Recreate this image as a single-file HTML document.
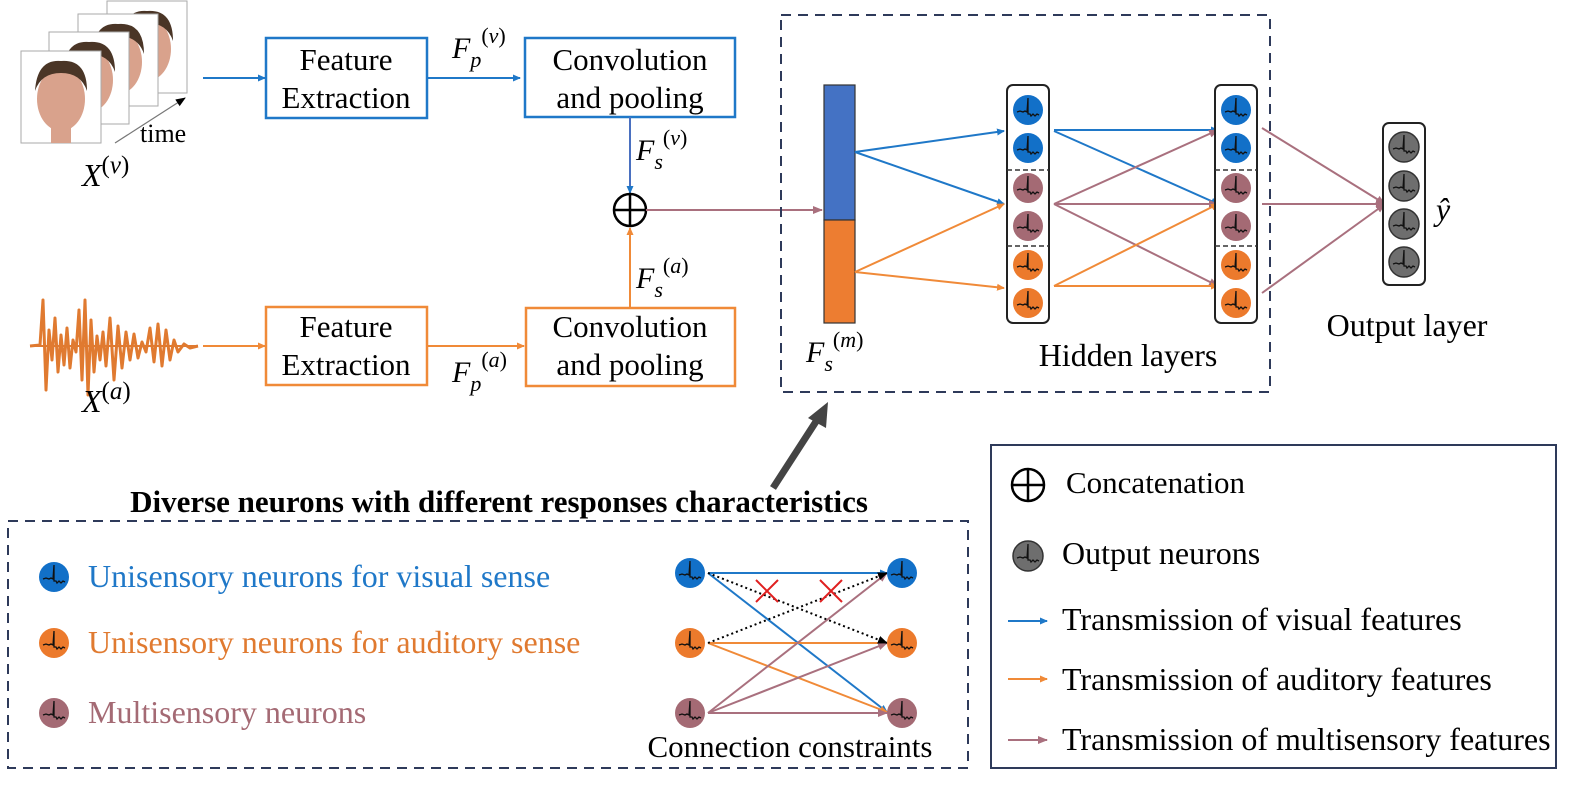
<!DOCTYPE html>
<html><head><meta charset="utf-8"><style>
html,body{margin:0;padding:0;background:#fff;}
svg{display:block;font-family:"Liberation Serif",serif;}
</style></head><body>
<svg width="1578" height="790" viewBox="0 0 1578 790" xmlns="http://www.w3.org/2000/svg">
<defs>
<marker id="mb" markerWidth="8" markerHeight="8" refX="7" refY="4" orient="auto" markerUnits="userSpaceOnUse"><path d="M0,0.5 L8,4 L0,7.5z" fill="#1f78c8"/></marker>
<marker id="mo" markerWidth="8" markerHeight="8" refX="7" refY="4" orient="auto" markerUnits="userSpaceOnUse"><path d="M0,0.5 L8,4 L0,7.5z" fill="#f08a38"/></marker>
<marker id="mm" markerWidth="10" markerHeight="10" refX="9" refY="5" orient="auto" markerUnits="userSpaceOnUse"><path d="M0,1 L10,5 L0,9z" fill="#a9707e"/></marker>
<marker id="mk" markerWidth="10" markerHeight="10" refX="9" refY="5" orient="auto" markerUnits="userSpaceOnUse"><path d="M0,1 L10,5 L0,9z" fill="#000"/></marker>
<g id="sp"><path d="M-11,2 l3,-1 l3,1 l2,-1 l2,1 l1,-14 l0,16 l2,0 l1,2 l2,-2 l2,2 l2,-2 l2,1" fill="none" stroke="#111" stroke-width="1.3"/></g>
<g id="nb"><circle r="15" fill="#1270c8"/><use href="#sp"/></g>
<g id="no"><circle r="15" fill="#ec7a2c"/><use href="#sp"/></g>
<g id="nm"><circle r="15" fill="#a46a74"/><use href="#sp"/></g>
<g id="ng"><circle r="15" fill="#6e6e6e" stroke="#333" stroke-width="1.5"/><use href="#sp"/></g>
<g id="face"><rect width="80" height="92" fill="#fff" stroke="#aaa"/><ellipse cx="40" cy="48" rx="24" ry="32" fill="#d9a28c"/><path d="M14,40 Q16,8 40,10 Q66,8 66,40 Q60,22 40,22 Q20,22 14,40z" fill="#4a3526"/><rect x="30" y="76" width="20" height="16" fill="#d9a28c"/></g>
</defs>

<use href="#face" x="107" y="1"/>
<use href="#face" x="78" y="14"/>
<use href="#face" x="49" y="32"/>
<use href="#face" x="21" y="51"/>
<line x1="115" y1="143" x2="185" y2="98" stroke="#777" stroke-width="1.2" marker-end="url(#mk)"/>
<text x="140" y="142" font-size="26">time</text>
<text x="82" y="186" font-size="32" font-style="italic">X<tspan dy="-13" font-size="25" font-style="normal">(</tspan><tspan font-size="25">v</tspan><tspan font-size="25" font-style="normal">)</tspan></text>

<path d="M30,346 L40,345 L43,300 L46,390 L49,330 L52,360 L55,318 L58,372 L61,335 L64,365 L67,328 L70,368 L73,340 L76,352 L79,310 L82,380 L85,300 L88,395 L91,320 L94,372 L97,336 L100,360 L103,332 L106,366 L110,318 L114,380 L118,326 L122,368 L126,332 L130,360 L134,334 L138,358 L142,342 L146,352 L150,328 L154,362 L158,324 L162,366 L166,330 L170,360 L174,340 L178,352 L184,344 L190,348 L198,346" fill="none" stroke="#e07a30" stroke-width="3" stroke-linejoin="round"/>
<path d="M30,346 L198,346" stroke="#e07a30" stroke-width="2"/>
<text x="82" y="412" font-size="32" font-style="italic">X<tspan dy="-13" font-size="25" font-style="normal">(</tspan><tspan font-size="25">a</tspan><tspan font-size="25" font-style="normal">)</tspan></text>

<line x1="203" y1="78" x2="265" y2="78" stroke="#1f78c8" stroke-width="2" marker-end="url(#mb)"/>
<rect x="266" y="38" width="161" height="80" fill="none" stroke="#1f78c8" stroke-width="2.5"/>
<text x="346" y="70" font-size="31" text-anchor="middle">Feature</text>
<text x="346" y="108" font-size="31" text-anchor="middle">Extraction</text>
<line x1="427" y1="78" x2="520" y2="78" stroke="#1f78c8" stroke-width="2" marker-end="url(#mb)"/>
<text x="452" y="58" font-size="30" font-style="italic">F<tspan dy="9" font-size="22">p</tspan><tspan dy="-24" font-size="22" font-style="normal">(</tspan><tspan font-size="22">v</tspan><tspan font-size="22" font-style="normal">)</tspan></text>
<rect x="525" y="38" width="210" height="79" fill="none" stroke="#1f78c8" stroke-width="2.5"/>
<text x="630" y="70" font-size="31" text-anchor="middle">Convolution</text>
<text x="630" y="108" font-size="31" text-anchor="middle">and pooling</text>
<line x1="630" y1="117" x2="630" y2="193" stroke="#4a70c0" stroke-width="2" marker-end="url(#mb)"/>
<text x="636" y="160" font-size="30" font-style="italic">F<tspan dy="9" font-size="22">s</tspan><tspan dy="-24" font-size="22" font-style="normal">(</tspan><tspan font-size="22">v</tspan><tspan font-size="22" font-style="normal">)</tspan></text>

<circle cx="630" cy="210" r="16" fill="#fff" stroke="#000" stroke-width="2.5"/>
<line x1="614" y1="210" x2="646" y2="210" stroke="#000" stroke-width="2.5"/>
<line x1="630" y1="194" x2="630" y2="226" stroke="#000" stroke-width="2.5"/>
<line x1="646" y1="210" x2="822" y2="210" stroke="#a9707e" stroke-width="2" marker-end="url(#mm)"/>

<line x1="203" y1="346" x2="265" y2="346" stroke="#f08a38" stroke-width="2" marker-end="url(#mo)"/>
<rect x="266" y="307" width="161" height="78" fill="none" stroke="#f08a38" stroke-width="2.5"/>
<text x="346" y="337" font-size="31" text-anchor="middle">Feature</text>
<text x="346" y="375" font-size="31" text-anchor="middle">Extraction</text>
<line x1="427" y1="346" x2="524" y2="346" stroke="#f08a38" stroke-width="2" marker-end="url(#mo)"/>
<text x="452" y="382" font-size="30" font-style="italic">F<tspan dy="9" font-size="22">p</tspan><tspan dy="-24" font-size="22" font-style="normal">(</tspan><tspan font-size="22">a</tspan><tspan font-size="22" font-style="normal">)</tspan></text>
<rect x="526" y="308" width="209" height="78" fill="none" stroke="#f08a38" stroke-width="2.5"/>
<text x="630" y="337" font-size="31" text-anchor="middle">Convolution</text>
<text x="630" y="375" font-size="31" text-anchor="middle">and pooling</text>
<line x1="630" y1="308" x2="630" y2="228" stroke="#f08a38" stroke-width="2" marker-end="url(#mo)"/>
<text x="636" y="288" font-size="30" font-style="italic">F<tspan dy="9" font-size="22">s</tspan><tspan dy="-24" font-size="22" font-style="normal">(</tspan><tspan font-size="22">a</tspan><tspan font-size="22" font-style="normal">)</tspan></text>

<rect x="781" y="15" width="489" height="377" fill="none" stroke="#2e3a5a" stroke-width="2" stroke-dasharray="10,7"/>
<rect x="824" y="85" width="31" height="135" fill="#4472c4" stroke="#333" stroke-width="1.2"/>
<rect x="824" y="220" width="31" height="103" fill="#ed7d31" stroke="#333" stroke-width="1.2"/>
<text x="806" y="362" font-size="30" font-style="italic">F<tspan dy="9" font-size="22">s</tspan><tspan dy="-24" font-size="22" font-style="normal">(</tspan><tspan font-size="22">m</tspan><tspan font-size="22" font-style="normal">)</tspan></text>

<line x1="855" y1="152" x2="1004" y2="131" stroke="#1f78c8" stroke-width="2" marker-end="url(#mb)"/>
<line x1="855" y1="152" x2="1004" y2="204" stroke="#1f78c8" stroke-width="2" marker-end="url(#mb)"/>
<line x1="855" y1="272" x2="1004" y2="204" stroke="#f08a38" stroke-width="2" marker-end="url(#mo)"/>
<line x1="855" y1="272" x2="1004" y2="288" stroke="#f08a38" stroke-width="2" marker-end="url(#mo)"/>

<line x1="1054" y1="130" x2="1218" y2="130" stroke="#1f78c8" stroke-width="2" marker-end="url(#mb)"/>
<line x1="1054" y1="131" x2="1218" y2="204" stroke="#1f78c8" stroke-width="2" marker-end="url(#mb)"/>
<line x1="1054" y1="204" x2="1218" y2="130" stroke="#a9707e" stroke-width="2" marker-end="url(#mm)"/>
<line x1="1054" y1="204" x2="1218" y2="204" stroke="#a9707e" stroke-width="2" marker-end="url(#mm)"/>
<line x1="1054" y1="204" x2="1218" y2="286" stroke="#a9707e" stroke-width="2" marker-end="url(#mm)"/>
<line x1="1054" y1="286" x2="1218" y2="204" stroke="#f08a38" stroke-width="2" marker-end="url(#mo)"/>
<line x1="1054" y1="286" x2="1218" y2="286" stroke="#f08a38" stroke-width="2" marker-end="url(#mo)"/>

<line x1="1262" y1="128" x2="1385" y2="204" stroke="#a9707e" stroke-width="2" marker-end="url(#mm)"/>
<line x1="1262" y1="204" x2="1385" y2="204" stroke="#a9707e" stroke-width="2" marker-end="url(#mm)"/>
<line x1="1262" y1="293" x2="1385" y2="204" stroke="#a9707e" stroke-width="2" marker-end="url(#mm)"/>

<rect x="1007" y="85" width="42" height="238" rx="6" fill="#fff" stroke="#222" stroke-width="2"/>
<line x1="1007" y1="170" x2="1049" y2="170" stroke="#333" stroke-width="1.5" stroke-dasharray="5,3"/>
<line x1="1007" y1="246" x2="1049" y2="246" stroke="#333" stroke-width="1.5" stroke-dasharray="5,3"/>
<use href="#nb" x="1028" y="110"/><use href="#nb" x="1028" y="148"/>
<use href="#nm" x="1028" y="188"/><use href="#nm" x="1028" y="226"/>
<use href="#no" x="1028" y="265"/><use href="#no" x="1028" y="303"/>

<rect x="1215" y="85" width="42" height="238" rx="6" fill="#fff" stroke="#222" stroke-width="2"/>
<line x1="1215" y1="170" x2="1257" y2="170" stroke="#333" stroke-width="1.5" stroke-dasharray="5,3"/>
<line x1="1215" y1="246" x2="1257" y2="246" stroke="#333" stroke-width="1.5" stroke-dasharray="5,3"/>
<use href="#nb" x="1236" y="110"/><use href="#nb" x="1236" y="148"/>
<use href="#nm" x="1236" y="188"/><use href="#nm" x="1236" y="226"/>
<use href="#no" x="1236" y="265"/><use href="#no" x="1236" y="303"/>
<text x="1128" y="366" font-size="32" text-anchor="middle">Hidden layers</text>

<rect x="1383" y="123" width="42" height="162" rx="6" fill="#fff" stroke="#222" stroke-width="2"/>
<use href="#ng" x="1404" y="147"/><use href="#ng" x="1404" y="186"/>
<use href="#ng" x="1404" y="224"/><use href="#ng" x="1404" y="262"/>
<text x="1436" y="220" font-size="32" font-style="italic">ŷ</text>
<text x="1407" y="336" font-size="32" text-anchor="middle">Output layer</text>

<line x1="773" y1="488" x2="817" y2="420" stroke="#444" stroke-width="7"/>
<path d="M828,402 L808,418 L826,428z" fill="#444"/>

<text x="499" y="512" font-size="31" font-weight="bold" text-anchor="middle">Diverse neurons with different responses characteristics</text>
<rect x="8" y="521" width="960" height="247" fill="none" stroke="#2e3a5a" stroke-width="2" stroke-dasharray="10,7"/>
<use href="#nb" x="54" y="577"/>
<text x="88" y="587" font-size="32" fill="#1f78c8">Unisensory neurons for visual sense</text>
<use href="#no" x="54" y="643"/>
<text x="88" y="653" font-size="32" fill="#e07a30">Unisensory neurons for auditory sense</text>
<use href="#nm" x="54" y="713"/>
<text x="88" y="723" font-size="32" fill="#a46a74">Multisensory neurons</text>

<line x1="708" y1="573" x2="887" y2="573" stroke="#1f78c8" stroke-width="2" marker-end="url(#mb)"/>
<line x1="708" y1="573" x2="887" y2="712" stroke="#1f78c8" stroke-width="2" marker-end="url(#mb)"/>
<line x1="708" y1="643" x2="887" y2="643" stroke="#f08a38" stroke-width="2" marker-end="url(#mo)"/>
<line x1="708" y1="643" x2="887" y2="712" stroke="#f08a38" stroke-width="2" marker-end="url(#mo)"/>
<line x1="708" y1="713" x2="887" y2="573" stroke="#a9707e" stroke-width="2" marker-end="url(#mm)"/>
<line x1="708" y1="713" x2="887" y2="643" stroke="#a9707e" stroke-width="2" marker-end="url(#mm)"/>
<line x1="708" y1="713" x2="887" y2="713" stroke="#a9707e" stroke-width="2" marker-end="url(#mm)"/>
<line x1="708" y1="573" x2="887" y2="643" stroke="#000" stroke-width="2" stroke-dasharray="2,3" marker-end="url(#mk)"/>
<line x1="708" y1="643" x2="887" y2="573" stroke="#000" stroke-width="2" stroke-dasharray="2,3" marker-end="url(#mk)"/>
<path d="M756,580 L778,602 M778,580 L756,602 M820,580 L842,602 M842,580 L820,602" stroke="#e02020" stroke-width="2"/>
<use href="#nb" x="690" y="573"/><use href="#no" x="690" y="643"/><use href="#nm" x="690" y="713"/>
<use href="#nb" x="902" y="573"/><use href="#no" x="902" y="643"/><use href="#nm" x="902" y="713"/>
<text x="790" y="757" font-size="31" text-anchor="middle">Connection constraints</text>

<rect x="991" y="445" width="565" height="323" fill="none" stroke="#2e3a5a" stroke-width="2"/>
<circle cx="1028" cy="485" r="16" fill="none" stroke="#000" stroke-width="2.5"/>
<line x1="1012" y1="485" x2="1044" y2="485" stroke="#000" stroke-width="2.5"/>
<line x1="1028" y1="469" x2="1028" y2="501" stroke="#000" stroke-width="2.5"/>
<text x="1066" y="493" font-size="31">Concatenation</text>
<use href="#ng" x="1028" y="556"/>
<text x="1062" y="564" font-size="32">Output neurons</text>
<line x1="1008" y1="621" x2="1047" y2="621" stroke="#1f78c8" stroke-width="2" marker-end="url(#mb)"/>
<text x="1062" y="630" font-size="32">Transmission of visual features</text>
<line x1="1008" y1="679" x2="1047" y2="679" stroke="#f08a38" stroke-width="2" marker-end="url(#mo)"/>
<text x="1062" y="690" font-size="32">Transmission of auditory features</text>
<line x1="1008" y1="740" x2="1047" y2="740" stroke="#a9707e" stroke-width="2" marker-end="url(#mm)"/>
<text x="1062" y="750" font-size="32">Transmission of multisensory features</text>
</svg>
</body></html>
